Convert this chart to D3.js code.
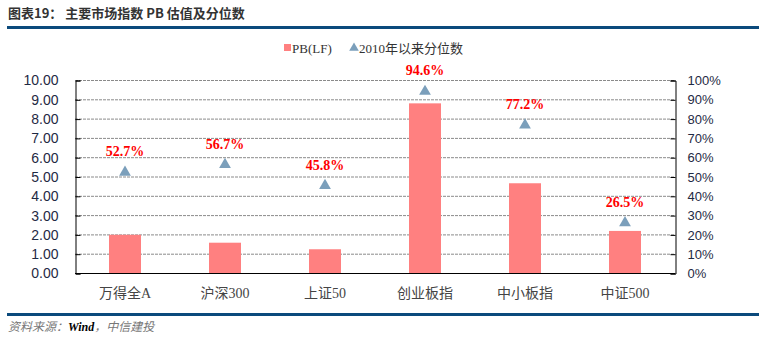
<!DOCTYPE html>
<html><head><meta charset="utf-8">
<script src="https://cdn.jsdelivr.net/npm/d3@7/dist/d3.min.js"></script>
<style>body{margin:0;background:#fff;}svg{display:block;}</style>
</head><body>
<script>
const categories = ["万得全A","沪深300","上证50","创业板指","中小板指","中证500"];
const pbValues = [1.98, 1.57, 1.23, 8.79, 4.65, 2.18];
const pctValues = [52.7, 56.7, 45.8, 94.6, 77.2, 26.5];
const leftTicks = [0,1,2,3,4,5,6,7,8,9,10];
const rightTicks = [0,10,20,30,40,50,60,70,80,90,100];
const seriesNames = ["PB(LF)", "2010年以来分位数"];

const W = 766, H = 339;
const m = {left:75, right:91, top:80, bottom:66};
const svg = d3.select("body").append("svg").attr("width",W).attr("height",H);

const cjk = "'Liberation Serif','Noto Sans CJK SC',serif";
const sans = "'Liberation Sans',Arial,sans-serif";

// Title
svg.append("text").attr("x",8).attr("y",18).attr("font-family","'Noto Sans CJK SC',sans-serif")
  .attr("font-weight","bold").attr("font-size",13).attr("fill","#333")
  .text("图表19：  主要市场指数 PB 估值及分位数");
svg.append("rect").attr("x",7).attr("y",26).attr("width",752).attr("height",3).attr("fill","#0b4a7c");

// Bottom
svg.append("rect").attr("x",7).attr("y",313).attr("width",752).attr("height",3).attr("fill","#0b4a7c");
const src = svg.append("text").attr("x",8).attr("y",331).attr("font-size",12).attr("font-style","italic")
  .attr("font-family","'Noto Sans CJK SC',sans-serif").attr("fill","#777");
src.append("tspan").text("资料来源：");
src.append("tspan").attr("fill","#000").attr("font-weight","bold").attr("font-family","'Liberation Serif',serif").text("Wind");
src.append("tspan").text("，中信建投");

const x = d3.scaleBand().domain(categories).range([m.left, W-m.right]).paddingInner(0.68).paddingOuter(0.34);
const y = d3.scaleLinear().domain([0,10]).range([H-m.bottom, m.top]);
const y2 = d3.scaleLinear().domain([0,100]).range([H-m.bottom, m.top]);

// grid
svg.append("g").selectAll("line").data(leftTicks.filter(d=>d>0)).join("line")
  .attr("x1",m.left).attr("x2",W-m.right).attr("y1",d=>y(d)+0.5).attr("y2",d=>y(d)+0.5)
  .attr("stroke","#8a8a8a").attr("stroke-width",1).attr("stroke-dasharray","3,1");

// bars
svg.append("g").selectAll("rect").data(pbValues).join("rect")
  .attr("x",(d,i)=>x(categories[i])).attr("width",x.bandwidth())
  .attr("y",d=>y(d)).attr("height",d=>y(0)-y(d)).attr("fill","#ff8080");

// axes
const yAxis = d3.axisLeft(y).tickValues(leftTicks).tickFormat(d3.format(".2f")).tickSize(-5).tickPadding(17);
const gL = svg.append("g").attr("transform",`translate(${m.left+0.5},0.5)`).call(yAxis);
const y2Axis = d3.axisRight(y2).tickValues(rightTicks).tickFormat(d=>d+"%").tickSize(-5).tickPadding(12);
const gR = svg.append("g").attr("transform",`translate(${W-m.right+0.5},0.5)`).call(y2Axis);
[gL,gR].forEach(g=>{
  g.select(".domain").attr("stroke","#000");
  g.selectAll(".tick line").attr("stroke","#000");
  g.selectAll(".tick text").attr("font-family",sans).attr("font-size",14).attr("fill","#1f2a44");
});
gR.selectAll(".tick text").attr("font-size",13);
// x axis
svg.append("line").attr("x1",m.left).attr("x2",W-m.right).attr("y1",y(0)+0.5).attr("y2",y(0)+0.5).attr("stroke","#000");
svg.append("g").selectAll("text").data(categories).join("text")
  .attr("x",d=>x(d)+x.bandwidth()/2).attr("y",y(0)+25).attr("text-anchor","middle")
  .attr("font-family",cjk).attr("font-size",14).attr("fill","#444").text(d=>d);

// triangles
const tri = d3.symbol().type(d3.symbolTriangle).size(60);
svg.append("g").selectAll("path").data(pctValues).join("path")
  .attr("d",tri).attr("transform",(d,i)=>`translate(${x(categories[i])+x.bandwidth()/2},${y2(d)+1})`)
  .attr("fill","#7b9fbb");
svg.append("g").selectAll("text").data(pctValues).join("text")
  .attr("x",(d,i)=>x(categories[i])+x.bandwidth()/2).attr("y",d=>y2(d)-15)
  .attr("text-anchor","middle").attr("font-family","'Liberation Serif',serif").attr("font-weight","bold")
  .attr("font-size",14).attr("fill","#ff0000").text(d=>d.toFixed(1)+"%");

// legend
const lg = svg.append("g");
lg.append("rect").attr("x",284).attr("y",44).attr("width",7).attr("height",7).attr("fill","#ff8080");
lg.append("text").attr("x",292).attr("y",53).attr("font-family",cjk).attr("font-size",13).attr("fill","#333").text(seriesNames[0]);
lg.append("path").attr("d",d3.symbol().type(d3.symbolTriangle).size(40)).attr("transform","translate(354,48)").attr("fill","#7b9fbb");
lg.append("text").attr("x",359).attr("y",53).attr("font-family",cjk).attr("font-size",13).attr("fill","#333").text(seriesNames[1]);
</script>
</body></html>
